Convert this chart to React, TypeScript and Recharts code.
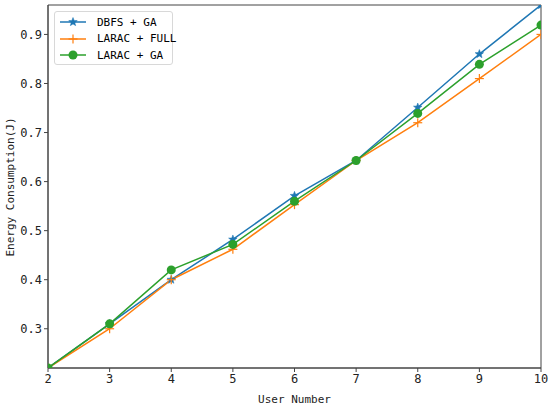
import React from 'react';
import { LineChart, Line, XAxis, YAxis, ReferenceArea } from 'recharts';

const users = [2, 3, 4, 5, 6, 7, 8, 9, 10];
const dbfsGa = [0.22, 0.31, 0.40, 0.482, 0.571, 0.643, 0.751, 0.86, 0.96];
const laracFull = [0.22, 0.30, 0.40, 0.462, 0.553, 0.643, 0.72, 0.81, 0.90];
const laracGa = [0.22, 0.31, 0.42, 0.472, 0.56, 0.643, 0.739, 0.839, 0.919];
const xTicks = [2, 3, 4, 5, 6, 7, 8, 9, 10];
const yTicks = [0.3, 0.4, 0.5, 0.6, 0.7, 0.8, 0.9];

const seriesNames = ['DBFS + GA', 'LARAC + FULL', 'LARAC + GA'];
const colors = ['#1f77b4', '#ff7f0e', '#2ca02c'];

const data = users.map((u, i) => ({
  u,
  a: dbfsGa[i],
  b: laracFull[i],
  c: laracGa[i],
}));

const FONT = '"DejaVu Sans Mono", monospace';

const Star = (props: any) => {
  const { cx, cy, fill } = props;
  if (cx == null || cy == null) return null;
  const pts: string[] = [];
  const R = 4.5, r = 1.9;
  for (let k = 0; k < 10; k++) {
    const ang = -Math.PI / 2 + (k * Math.PI) / 5;
    const rad = k % 2 === 0 ? R : r;
    pts.push(`${cx + rad * Math.cos(ang)},${cy + rad * Math.sin(ang)}`);
  }
  return <polygon points={pts.join(' ')} fill={fill} stroke={fill} strokeWidth={0.5} />;
};

const Plus = (props: any) => {
  const { cx, cy, fill } = props;
  if (cx == null || cy == null) return null;
  const s = 4.5;
  return (
    <g stroke={fill} strokeWidth={1.2}>
      <line x1={cx - s} y1={cy} x2={cx + s} y2={cy} />
      <line x1={cx} y1={cy - s} x2={cx} y2={cy + s} />
    </g>
  );
};

const Circ = (props: any) => {
  const { cx, cy, fill } = props;
  if (cx == null || cy == null) return null;
  return <circle cx={cx} cy={cy} r={4.5} fill={fill} />;
};

const markers = [Star, Plus, Circ];

const LegendBox = () => (
  <div
    style={{
      position: 'absolute',
      left: 54,
      top: 11,
      border: '1px solid #d8d8d8',
      borderRadius: 3,
      background: 'rgba(255,255,255,0.8)',
      padding: '2px 4px 2px 4px',
      fontFamily: FONT,
      fontSize: 11,
      color: '#000',
      width: 119,
      height: 54,
      boxSizing: 'border-box',
      whiteSpace: 'nowrap',
    }}
  >
    {seriesNames.map((n, i) => {
      const M = markers[i];
      return (
        <div key={n} style={{ display: 'flex', alignItems: 'center', justifyContent: 'flex-start', height: 16.5 }}>
          <svg width={28} height={12} style={{ marginRight: 10, flexShrink: 0 }}>
            <line x1={1} y1={6} x2={27} y2={6} stroke={colors[i]} strokeWidth={1.5} />
            <M cx={14} cy={6} fill={colors[i]} />
          </svg>
          <span style={{ flexShrink: 0 }}>{n}</span>
        </div>
      );
    })}
  </div>
);

export default function App() {
  return (
    <div style={{ position: 'absolute', left: 0, top: 0, width: 550, height: 405, background: '#fff' }}>
      <LineChart
        width={550}
        height={405}
        data={data}
        margin={{ top: 5, right: 9, bottom: 0, left: 0 }}
      >
        <XAxis
          dataKey="u"
          type="number"
          domain={[2, 10]}
          ticks={xTicks}
          allowDataOverflow
          height={37}
          stroke="#444"
          tickSize={4}
          tick={{ fill: '#222', fontSize: 12, fontFamily: FONT }}
          label={{ value: 'User Number', position: 'insideBottom', offset: 2, fill: '#222', fontSize: 11, fontFamily: FONT }}
        />
        <YAxis
          type="number"
          domain={[0.22, 0.96]}
          ticks={yTicks}
          allowDataOverflow
          width={48}
          stroke="#444"
          tickSize={4}
          tickFormatter={(v: number) => v.toFixed(1)}
          tick={{ fill: '#222', fontSize: 12, fontFamily: FONT }}
          label={{ value: 'Energy Consumption(J)', angle: -90, position: 'insideLeft', offset: 10, dy: 70, fill: '#222', fontSize: 11, fontFamily: FONT }}
        />
        <ReferenceArea x1={2} x2={10} y1={0.22} y2={0.96} fill="none" stroke="#444" strokeWidth={1} ifOverflow="visible" />
        {['a', 'b', 'c'].map((k, i) => {
          const M = markers[i];
          return (
            <Line
              key={k}
              dataKey={k}
              name={seriesNames[i]}
              stroke={colors[i]}
              strokeWidth={1.5}
              dot={<M fill={colors[i]} />}
              activeDot={false}
              isAnimationActive={false}
            />
          );
        })}
      </LineChart>
      <LegendBox />
    </div>
  );
}
